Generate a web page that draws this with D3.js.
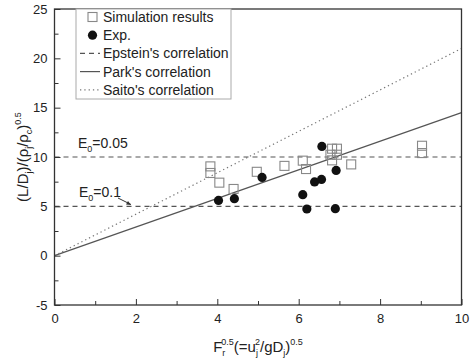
<!DOCTYPE html>
<html><head><meta charset="utf-8">
<script src="https://cdn.jsdelivr.net/npm/d3@7"></script>
<style>body{margin:0;background:#fff}svg{display:block;font-family:"Liberation Sans",Arial,sans-serif}</style>
</head><body>
<script>
const xTicks = [0,2,4,6,8,10];
const yTicks = [-5,0,5,10,15,20,25];
const simX = [3.83,3.83,4.05,4.40,4.97,5.65,6.10,6.18,6.78,6.82,6.94,6.94,6.82,7.29,9.03,9.03];
const simY = [9.05,8.38,7.40,6.76,8.50,9.10,9.63,8.78,10.23,10.84,10.84,10.23,9.66,9.25,11.14,10.40];
const expX = [4.03,4.42,5.10,6.57,6.92,6.39,6.56,6.10,6.20,6.90];
const expY = [5.60,5.78,7.93,11.07,8.64,7.47,7.73,6.18,4.73,4.76];
const epsteinLevels = [10,5];
const epsteinLabels = ["0.05","0.1"];
const parkSlope = 1.45;
const saitoSlope = 2.1;
const legendLabels = ["Simulation results","Exp.","Epstein's correlation","Park's correlation","Saito's correlation"];

const W=474,H=364;
const svg=d3.select("body").append("svg").attr("width",W).attr("height",H);
const x=d3.scaleLinear().domain([0,10]).range([54.5,461.5]);
const y=d3.scaleLinear().domain([-5,25]).range([305,9]);

// Epstein lines
svg.selectAll(".ep").data(epsteinLevels).join("line")
  .attr("x1",x(0)).attr("x2",x(10)).attr("y1",d=>y(d)).attr("y2",d=>y(d))
  .attr("stroke","#555").attr("stroke-width",1.1).attr("stroke-dasharray","5,4");
// Park
svg.append("line").attr("x1",x(0)).attr("y1",y(0)).attr("x2",x(10)).attr("y2",y(parkSlope*10))
  .attr("stroke","#555").attr("stroke-width",1.2);
// Saito (clip to plot)
const saitoEnd = Math.min(10, 25/saitoSlope);
svg.append("line").attr("x1",x(0)).attr("y1",y(0)).attr("x2",x(saitoEnd)).attr("y2",y(saitoSlope*saitoEnd))
  .attr("stroke","#777").attr("stroke-width",1.2).attr("stroke-dasharray","1.3,3");

// Sim squares
const s=9;
svg.selectAll(".sq").data(simX.map((v,i)=>[v,simY[i]])).join("rect")
  .attr("x",d=>x(d[0])-s/2).attr("y",d=>y(d[1])-s/2).attr("width",s).attr("height",s)
  .attr("fill","none").attr("stroke","#888").attr("stroke-width",1.1);
// Exp dots
svg.selectAll(".dot").data(expX.map((v,i)=>[v,expY[i]])).join("circle")
  .attr("cx",d=>x(d[0])).attr("cy",d=>y(d[1])).attr("r",4.6).attr("fill","#111");

// E0 labels
function e0(t,xx,yy){
  const tx=svg.append("text").attr("x",xx).attr("y",yy).attr("font-size",14).attr("fill","#222");
  tx.append("tspan").text("E");
  tx.append("tspan").attr("dy",4).attr("font-size",9).text("0");
  tx.append("tspan").attr("dy",-4).text("="+t);
}
e0(epsteinLabels[0],78,y(epsteinLevels[0])-9);
e0(epsteinLabels[1],79,y(epsteinLevels[1])-9);
svg.append("line").attr("x1",118).attr("y1",198).attr("x2",131).attr("y2",204.5).attr("stroke","#333").attr("stroke-width",1);
svg.append("path").attr("d","M131,205 l-5,-0.6 l2,-3.4 z").attr("fill","#333");

// axes
const ax=svg.append("g").attr("transform",`translate(0,${y(-5)})`)
  .call(d3.axisBottom(x).tickValues(d3.range(0,11,1)).tickSize(-5).tickFormat(d=>xTicks.includes(d)?d:""));
ax.selectAll(".tick line").attr("y2",d=>xTicks.includes(d)?-6:-4);
const ay=svg.append("g").attr("transform",`translate(${x(0)},0)`)
  .call(d3.axisLeft(y).tickValues(d3.range(-5,26,2.5)).tickSize(-5).tickFormat(d=>yTicks.includes(d)?d:""));
ay.selectAll(".tick line").attr("x2",d=>yTicks.includes(d)?6:4);
[ax,ay].forEach(g=>{g.select(".domain").remove();
  g.selectAll("text").attr("font-size",13).attr("fill","#222").attr("font-family","Liberation Sans, Arial, sans-serif");
  g.selectAll(".tick line").attr("stroke","#333");});
ax.selectAll("text").attr("dy","1.15em").attr("y",3);
ay.selectAll("text").attr("x",-7);

// frame
svg.append("rect").attr("x",x(0)).attr("y",y(25)).attr("width",x(10)-x(0)).attr("height",y(-5)-y(25))
  .attr("fill","none").attr("stroke","#333").attr("stroke-width",1.3);

// legend
const lg=svg.append("g");
lg.append("rect").attr("x",76).attr("y",y(25)).attr("width",155).attr("height",90).attr("fill","#fff").attr("stroke","#aaa");
legendLabels.forEach((t,i)=>{
  const cy=17+i*18.2;
  lg.append("text").attr("x",103).attr("y",cy+5).attr("font-size",14).attr("fill","#222").text(t);
  if(i===0) lg.append("rect").attr("x",88).attr("y",cy-4.5).attr("width",9).attr("height",9).attr("fill","none").attr("stroke","#888").attr("stroke-width",1.1);
  else if(i===1) lg.append("circle").attr("cx",92.5).attr("cy",cy).attr("r",4.6).attr("fill","#111");
  else {
    const l=lg.append("line").attr("x1",80).attr("x2",100).attr("y1",cy).attr("y2",cy).attr("stroke-width",1.2);
    if(i===2) l.attr("stroke","#555").attr("stroke-dasharray","5,4");
    if(i===3) l.attr("stroke","#555");
    if(i===4) l.attr("stroke","#777").attr("stroke-dasharray","1.3,3");
  }
});

// axis titles
const xt=svg.append("text").attr("x",258).attr("y",352).attr("text-anchor","middle").attr("font-size",15).attr("fill","#222");
xt.append("tspan").text("F");
xt.append("tspan").attr("dy",4).attr("font-size",9).text("r");
xt.append("tspan").attr("dy",-11).attr("font-size",9).attr("dx",-4).text("0.5");
xt.append("tspan").attr("dy",7).text("(=u");
xt.append("tspan").attr("dy",4).attr("font-size",9).text("j");
xt.append("tspan").attr("dy",-11).attr("font-size",9).attr("dx",-3).text("2");
xt.append("tspan").attr("dy",7).text("/gD");
xt.append("tspan").attr("dy",4).attr("font-size",9).text("j");
xt.append("tspan").attr("dy",-4).text(")");
xt.append("tspan").attr("dy",-7).attr("font-size",9).text("0.5");

const yt=svg.append("text").attr("transform",`translate(28,${157}) rotate(-90)`).attr("text-anchor","middle").attr("font-size",15).attr("fill","#222");
yt.append("tspan").text("(L/D");
yt.append("tspan").attr("dy",4).attr("font-size",9).text("j");
yt.append("tspan").attr("dy",-4).text(")/(ρ");
yt.append("tspan").attr("dy",4).attr("font-size",9).text("j");
yt.append("tspan").attr("dy",-4).text("/ρ");
yt.append("tspan").attr("dy",4).attr("font-size",9).text("c");
yt.append("tspan").attr("dy",-4).text(")");
yt.append("tspan").attr("dy",-7).attr("font-size",9).text("0.5");
</script>
</body></html>
